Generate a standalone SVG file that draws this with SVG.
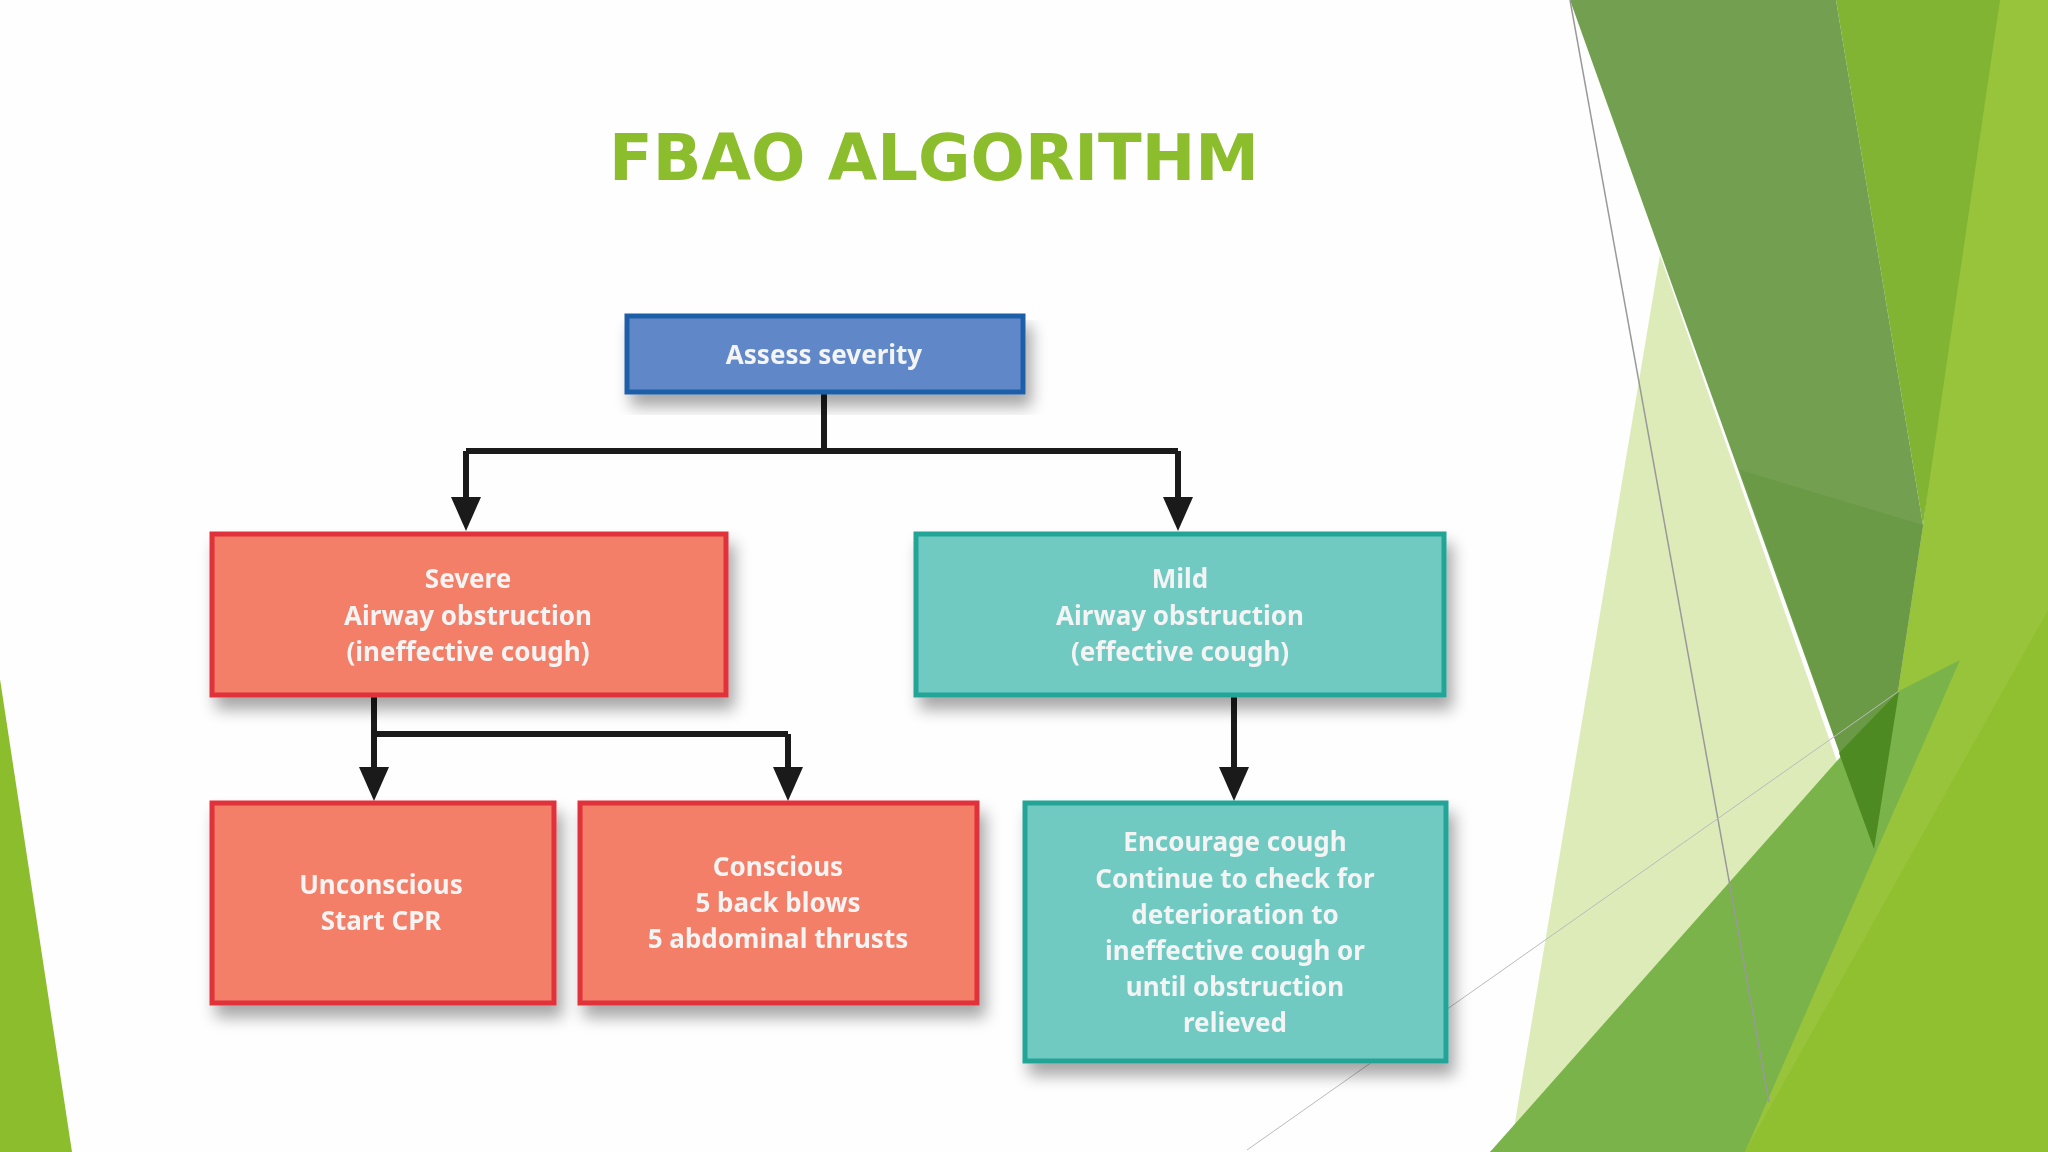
<svg xmlns="http://www.w3.org/2000/svg" width="2048" height="1152" viewBox="0 0 2048 1152">
<defs>
<style>
.t{font-family:"Noto Sans","DejaVu Sans",sans-serif;font-size:26px;fill:#f4f4f4;text-anchor:middle;font-weight:bold}
.red{fill:#f47f67;stroke:#e0303a;stroke-width:5}
.teal{fill:#6fcac2;stroke:#22a496;stroke-width:5}
.c{fill:none;stroke:#1a1a1a;stroke-width:6}
.a{fill:#1a1a1a}
</style>
<filter id="sh" x="-10%" y="-10%" width="130%" height="140%"><feGaussianBlur in="SourceAlpha" stdDeviation="8"/><feOffset dx="6" dy="12"/><feComponentTransfer><feFuncA type="linear" slope="0.35"/></feComponentTransfer><feMerge><feMergeNode/><feMergeNode in="SourceGraphic"/></feMerge></filter>
</defs>
<rect width="2048" height="1152" fill="#fefefe"/>
<g id="background">
<polygon points="0,679 72,1152 0,1152" fill="#8cbd2c"/>
<polygon points="1990,0 2048,0 2048,1152 1490,1152 1874,849 1923,525" fill="#98c43c"/>
<polygon points="1836,0 2000,0 1923,525" fill="#80b432"/>
<polygon points="1660,255 1840,770 1560,1152 1510,1152" fill="#d4e6a8" opacity="0.8"/>
<polygon points="1570,0 1836,0 1923,525 1874,849" fill="#72a050"/>
<polygon points="1740,470 1923,525 1874,849" fill="#6a9a45"/>
<polygon points="1490,1152 1899,691 1960,660 1745,1152" fill="#7ab34a"/>
<polygon points="1839,753 1899,691 1874,849" fill="#4e8a22"/>
<polygon points="1745,1152 2048,610 2048,1152" fill="#90c030"/>
<line x1="1570" y1="0" x2="1769" y2="1102" stroke="#999" stroke-width="1.5"/>
<line x1="1247" y1="1150" x2="1899" y2="691" stroke="#bbb" stroke-width="1"/>
</g>
<text x="934" y="180" font-family="'DejaVu Sans',sans-serif" font-weight="bold" font-size="64" fill="#8cbd2c" text-anchor="middle">FBAO ALGORITHM</text>
<g id="connectors">
<path class="c" d="M824,392 V451"/>
<path class="c" d="M466,451 H1178"/>
<path class="c" d="M466,451 V505"/>
<path class="c" d="M1178,451 V505"/>
<path class="c" d="M374,695 V734 H788"/>
<path class="c" d="M374,734 V775"/>
<path class="c" d="M788,734 V775"/>
<path class="c" d="M1234,695 V775"/>
<polygon class="a" points="451,497 481,497 466,531"/>
<polygon class="a" points="1163,497 1193,497 1178,531"/>
<polygon class="a" points="359,767 389,767 374,801"/>
<polygon class="a" points="773,767 803,767 788,801"/>
<polygon class="a" points="1219,767 1249,767 1234,801"/>
</g>
<g id="assess" filter="url(#sh)"><rect x="627" y="316" width="396" height="76" fill="#6088c8" stroke="#1f5fa8" stroke-width="5"/><text class="t" x="824" y="364">Assess severity</text></g>
<g id="severe" filter="url(#sh)"><rect class="red" x="212" y="534" width="514" height="161"/><text class="t" x="468" y="588">Severe</text><text class="t" x="468" y="625">Airway obstruction</text><text class="t" x="468" y="661">(ineffective cough)</text></g>
<g id="mild" filter="url(#sh)"><rect class="teal" x="916" y="534" width="528" height="161"/><text class="t" x="1180" y="588">Mild</text><text class="t" x="1180" y="625">Airway obstruction</text><text class="t" x="1180" y="661">(effective cough)</text></g>
<g id="unconscious" filter="url(#sh)"><rect class="red" x="212" y="803" width="342" height="200"/><text class="t" x="381" y="894">Unconscious</text><text class="t" x="381" y="930">Start CPR</text></g>
<g id="conscious" filter="url(#sh)"><rect class="red" x="580" y="803" width="397" height="200"/><text class="t" x="778" y="876">Conscious</text><text class="t" x="778" y="912">5 back blows</text><text class="t" x="778" y="948">5 abdominal thrusts</text></g>
<g id="encourage" filter="url(#sh)"><rect class="teal" x="1025" y="803" width="421" height="258"/><text class="t" x="1235" y="851">Encourage cough</text><text class="t" x="1235" y="888">Continue to check for</text><text class="t" x="1235" y="924">deterioration to</text><text class="t" x="1235" y="960">ineffective cough or</text><text class="t" x="1235" y="996">until obstruction</text><text class="t" x="1235" y="1032">relieved</text></g>
</svg>
